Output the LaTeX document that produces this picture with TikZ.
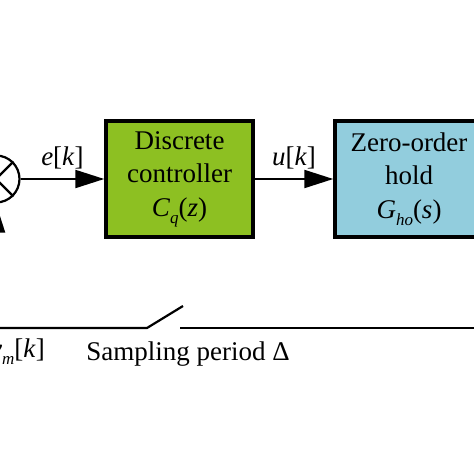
\documentclass[tikz,border=0pt]{standalone}
\usepackage{fontspec}
\setmainfont{Liberation Serif}
\usetikzlibrary{arrows.meta}
\definecolor{ctrlgreen}{RGB}{141,192,34}
\definecolor{holdblue}{RGB}{146,205,221}
\newcommand{\lowsub}[1]{\raisebox{-0.55ex}{\fontsize{17}{17}\selectfont\textit{#1}}}
\tikzset{
  blockbox/.style={draw=black, line width=3.5pt, minimum width=#1, minimum height=116pt, inner sep=0pt, align=center, font=\fontsize{27}{33.5}\selectfont},
  sig/.style={line width=2.2pt, -{Triangle[length=29pt,width=18pt]}},
  wire/.style={line width=2.2pt},
  lbl/.style={font=\fontsize{27}{32}\selectfont, inner sep=0pt},
}
\begin{document}
\begin{tikzpicture}[x=1pt,y=-1pt]
\useasboundingbox (0,0) rectangle (474,474);
% summing junction
\node[draw, line width=2.2pt, circle, minimum size=47pt, inner sep=0pt] (sum) at (-4,179) {};
\draw[line width=2.2pt] (sum.north east) -- (sum.south west) (sum.north west) -- (sum.south east);
\coordinate (fb) at (-4,260);
\draw[sig] (fb) -- (sum.south);
% blocks
\node[blockbox=147pt, fill=ctrlgreen] (ctrl) at (179.5,179)
  {Discrete\\controller\\\textit{C}\lowsub{q}(\textit{z})};
\node[blockbox=142pt, fill=holdblue] (zoh) at (406,179)
  {\hspace*{6pt}Zero-order\\\hspace*{6pt}hold\\\hspace*{6pt}\textit{G}\lowsub{ho}(\textit{s})};
% signals
\draw[sig] (sum.east) -- (ctrl.west) node[lbl, midway, above=9pt] {\textit{e}[\textit{k}]};
\draw[sig] (ctrl.east) -- (zoh.west) node[lbl, midway, above=9pt] {\textit{u}[\textit{k}]};
% sampler
\coordinate (sl) at (-10,328);
\coordinate (sa) at (147,328);
\coordinate (sb) at (183,306);
\coordinate (sc) at (180,328);
\coordinate (sr) at (480,328);
\draw[wire] (sl) -- (sa) -- (sb);
\draw[wire] (sc) -- (sr);
\node[lbl, anchor=east] (ym) at (45,352) {\textit{y}\lowsub{m}[\textit{k}]};
\node[lbl] (sp) at (188,354) {Sampling period Δ};
\end{tikzpicture}
\end{document}
